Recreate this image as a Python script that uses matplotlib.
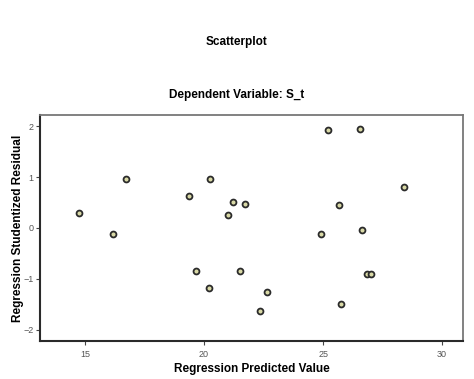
import matplotlib.pyplot as plt

plt.rcParams['font.family'] = ['Liberation Sans', 'DejaVu Sans']

# predicted values and studentized residuals
predicted = [14.75, 16.18, 16.72, 19.35, 20.26, 21.20, 20.99, 19.67, 20.22, 21.50,
             21.70, 22.66, 22.36, 25.19, 26.55, 28.41, 25.67, 24.93, 26.64, 26.83,
             27.03, 25.75]
residual = [0.29, -0.12, 0.97, 0.63, 0.96, 0.50, 0.26, -0.84, -1.18, -0.84,
            0.48, -1.26, -1.62, 1.92, 1.94, 0.81, 0.45, -0.12, -0.04, -0.91,
            -0.91, -1.50]
x_ticks = [15, 20, 25, 30]
y_ticks = [-2, -1, 0, 1, 2]

fig = plt.figure(figsize=(4.74, 3.79), dpi=100)
ax = fig.add_axes([0.0844, 0.100, 0.8926, 0.597])

ax.scatter(predicted, residual, s=18, facecolor='#d9d9a6', edgecolor='#2b2b2b',
           linewidths=1.3, zorder=3)

ax.set_xlim(13.11, 30.88)
ax.set_ylim(-2.22, 2.22)
ax.set_xticks(x_ticks)
ax.set_yticks(y_ticks)
ax.tick_params(labelsize=6.5, labelcolor='#555555', color='#444444', length=3, width=0.8)
ax.tick_params(axis='y', pad=1.5)

# left/bottom dark, top/right lighter like the SPSS frame
for side in ['left', 'bottom']:
    ax.spines[side].set_color('#2a2a2a')
    ax.spines[side].set_linewidth(1.5)
for side in ['top', 'right']:
    ax.spines[side].set_color('#777777')
    ax.spines[side].set_linewidth(1.3)

ax.set_xlabel('Regression Predicted Value', fontsize=8.5, fontweight='bold', labelpad=3)
ax.set_ylabel('Regression Studentized Residual', fontsize=8.5, fontweight='bold', labelpad=0)

fig.text(0.5, 1 - 42 / 379, 'Scatterplot', ha='center', va='center',
         fontsize=8.5, fontweight='bold')
fig.text(0.5, 1 - 95 / 379, 'Dependent Variable: S_t', ha='center', va='center',
         fontsize=8.5, fontweight='bold')

fig.savefig('out.png', dpi=100)
